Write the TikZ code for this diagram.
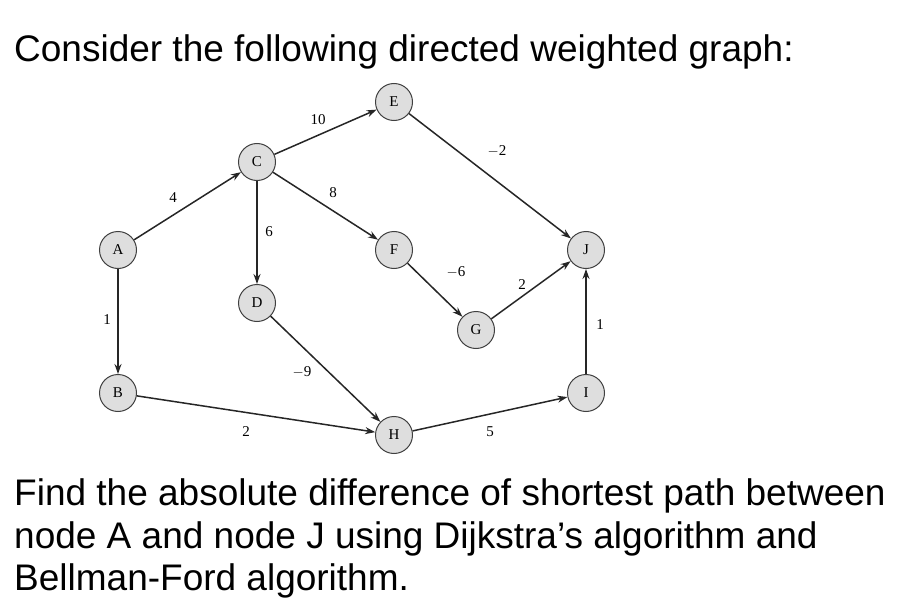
\documentclass[tikz,border=0pt]{standalone}
\usepackage{fontspec}
\setmainfont{Liberation Sans}
\newfontfamily\nodefont{Liberation Serif}
\usetikzlibrary{arrows.meta}
\begin{document}
\begin{tikzpicture}[x=1pt,y=-1pt,
  vert/.style={circle,draw=black!75,fill=black!13,line width=1pt,minimum size=37pt,inner sep=0pt,font=\nodefont\fontsize{15}{15}\selectfont},
  edge/.style={-{Stealth[length=10pt,width=7pt]},line width=1.5pt,black!85},
  wt/.style={font=\nodefont\fontsize{15}{15}\selectfont,inner sep=1pt},
  txt/.style={anchor=base west,inner sep=0pt,font=\fontsize{37}{42}\selectfont}]
\useasboundingbox (0,0) rectangle (898,610);
\node[txt] (t1) at (14,62) {Consider the following directed weighted graph:};
\node[vert] (A) at (118,250) {A};
\node[vert] (B) at (118,393) {B};
\node[vert] (C) at (257,162) {C};
\node[vert] (D) at (257,303) {D};
\node[vert] (E) at (394,102) {E};
\node[vert] (F) at (394,250) {F};
\node[vert] (G) at (476,330) {G};
\node[vert] (H) at (394,435) {H};
\node[vert] (I) at (586,393) {I};
\node[vert] (J) at (586,250) {J};
\draw[edge] (A) -- (C);
\draw[edge] (C) -- (E);
\draw[edge] (C) -- (F);
\draw[edge] (C) -- (D);
\draw[edge] (E) -- (J);
\draw[edge] (F) -- (G);
\draw[edge] (G) -- (J);
\draw[edge] (A) -- (B);
\draw[edge] (I) -- (J);
\draw[edge] (D) -- (H);
\draw[edge] (B) -- (H);
\draw[edge] (H) -- (I);
\node[wt] (w1) at (173,198) {4};
\node[wt] (w2) at (318,120) {10};
\node[wt] (w3) at (333,193) {8};
\node[wt] (w4) at (269,232) {6};
\node[wt] (w5) at (497,151) {$-$2};
\node[wt] (w6) at (456,272) {$-$6};
\node[wt] (w7) at (522,285) {2};
\node[wt] (w8) at (107,320) {1};
\node[wt] (w9) at (600,325) {1};
\node[wt] (w10) at (302,372) {$-$9};
\node[wt] (w11) at (246,432) {2};
\node[wt] (w12) at (490,432) {5};
\node[txt] (t2) at (14,505) {Find the absolute difference of shortest path between};
\node[txt] (t3) at (14,548) {node A and node J using Dijkstra’s algorithm and};
\node[txt] (t4) at (14,590) {Bellman-Ford algorithm.};
\end{tikzpicture}
\end{document}
